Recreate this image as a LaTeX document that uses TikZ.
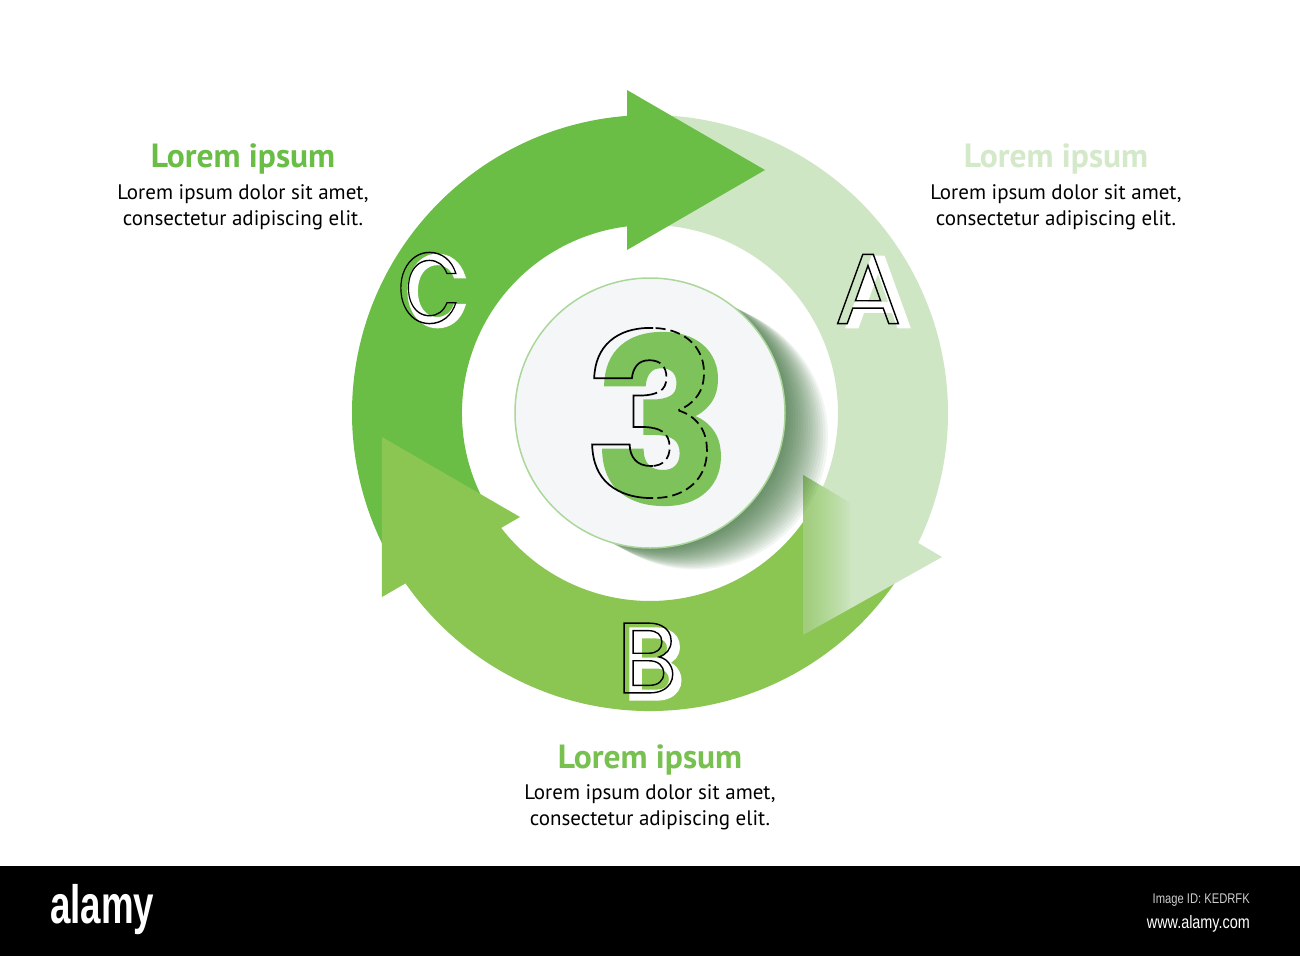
\documentclass[tikz,border=0pt]{standalone}
\usepackage{fontspec}
\usepackage{graphicx}
\setmainfont{PT Sans}
\newfontfamily\popf{Poppins}
\newfontfamily\libs{Liberation Sans}
\definecolor{cC}{HTML}{6ABD45}
\definecolor{cB}{HTML}{8BC653}
\definecolor{cA}{HTML}{CFE6C5}
\definecolor{cThree}{HTML}{7DC25A}
\definecolor{diskfill}{HTML}{F4F6F8}
\definecolor{diskrim}{HTML}{ABD79A}
\definecolor{shad}{HTML}{245F24}
\definecolor{hB}{HTML}{78C150}
\definecolor{hC}{HTML}{6ABD45}
\definecolor{hA}{HTML}{D3E9C9}
\newcommand{\strk}[2][1]{\special{pdf:literal direct 1 Tr #1 w}#2\special{pdf:literal direct 0 Tr}}
\newcommand{\fatt}[2][1]{\special{pdf:literal direct 2 Tr #1 w}#2\special{pdf:literal direct 0 Tr}}
\newcommand{\dashon}{\special{pdf:literal direct [10 5] 0 d}}
\newcommand{\dashoff}{\special{pdf:literal direct [] 0 d}}
\tikzset{
  head/.style={font=\bfseries\fontsize{33.5}{34}\selectfont, anchor=base, inner sep=0pt},
  body/.style={font=\fontsize{21}{22}\selectfont, anchor=base, text=black, inner sep=0pt},
  letterw/.style={font=\popf\fontsize{100}{100}\selectfont, text=white, inner sep=0pt},
  lettero/.style={font=\popf\fontsize{100}{100}\selectfont, text=black, inner sep=0pt},
  threef/.style={font=\popf\bfseries\fontsize{226}{226}\selectfont, inner sep=0pt},
}
\begin{document}
\begin{tikzpicture}[x=1pt,y=1pt]
\useasboundingbox (-650,-543) rectangle (650,413);
\fill[white] (-650,-543) rectangle (650,413);
% bands
\fill[cA] (-27:298) arc[start angle=-27, end angle=86, radius=298] -- (86:188) arc[start angle=86, end angle=-24, radius=188] -- cycle;
\fill[cB] (-30:298) arc[start angle=-30, end angle=-146.5, radius=298] -- (-143.5:188) arc[start angle=-143.5, end angle=-30, radius=188] -- cycle;
\fill[cC] (90:298) arc[start angle=90, end angle=206, radius=298] -- (206:188) arc[start angle=206, end angle=90, radius=188] -- cycle;
% arrow heads
\coordinate (ct1) at (-23,323); \coordinate (ct2) at (115,243); \coordinate (ct3) at (-23,163);
\coordinate (at1) at (153,-62); \coordinate (at2) at (292,-144); \coordinate (at3) at (153,-222);
\coordinate (bt1) at (-268,-24); \coordinate (bt2) at (-130,-104); \coordinate (bt3) at (-268,-184);
\fill[cC] (ct1) -- (ct2) -- (ct3) -- cycle;
\fill[cA] (at1) -- (at2) -- (at3) -- cycle;
\begin{scope}
\clip (at1) -- (at2) -- (at3) -- cycle;
\foreach \k in {0,...,23}{
  \fill[cB, opacity=0.035] (152,-230) rectangle (155+\k*2,-50);
}
\end{scope}
\fill[cB] (bt1) -- (bt2) -- (bt3) -- cycle;
% shadow
\foreach \k in {1,...,18}{
  \fill[shad, opacity=0.06] (\k*2.5,-\k*1.3) circle (133);
}
% disk
\node[circle, minimum size=270, fill=diskfill, draw=diskrim, line width=1.5pt] (disk) at (0,0) {};
% letters
\node[letterw] (lC) at (-213,122) {\scalebox{0.82}[1]{\fatt[3.5]{C}}};
\node[lettero] (lCo) at (-221,125) {\scalebox{0.82}[1]{\strk[1.4]{C}}};
\node[letterw] (lA) at (228,121) {\fatt[3.5]{A}};
\node[lettero] (lAo) at (218,124) {\strk[1.4]{A}};
\node[letterw] (lB) at (4,-251) {\fatt[3.5]{B}};
\node[lettero] (lBo) at (-3,-245) {\strk[1.4]{B}};
% three
\node[threef, text=cThree] (three) at (13,-6) {\fatt[4]{3}};
\begin{scope}
\clip (-200,-200) rectangle (3,200);
\node[threef, text=black] (threeo1) at (1,0) {\strk[1.7]{3}};
\end{scope}
\begin{scope}
\clip (3,-200) rectangle (200,200);
\node[threef, text=black] (threeo2) at (1,0) {\dashon\strk[1.7]{3}\dashoff};
\end{scope}
% texts
\node[head, text=hC] (hl) at (-407,245) {Lorem ipsum};
\node[body] (bl1) at (-407,213.5) {Lorem ipsum dolor sit amet,};
\node[body] (bl2) at (-407,187.5) {consectetur adipiscing elit.};
\node[head, text=hA] (hr) at (406,245) {Lorem ipsum};
\node[body] (br1) at (406,213.5) {Lorem ipsum dolor sit amet,};
\node[body] (br2) at (406,187.5) {consectetur adipiscing elit.};
\node[head, text=hB] (hb) at (0,-355) {Lorem ipsum};
\node[body] (bb1) at (0,-386.5) {Lorem ipsum dolor sit amet,};
\node[body] (bb2) at (0,-412.5) {consectetur adipiscing elit.};
% bottom bar
\fill[black] (-650,-453) rectangle (650,-543);
\node[text=white, font=\libs\bfseries\fontsize{54}{54}\selectfont, anchor=base west, inner sep=0pt] (logo) at (-600,-510) {\scalebox{0.68}[1]{alamy}};
\node[text=white!80!black, font=\libs\fontsize{14}{14}\selectfont, anchor=base east, inner sep=0pt] (imgid) at (600,-490) {\scalebox{0.8}[1]{Image ID: KEDRFK}};
\node[text=white, font=\libs\fontsize{18}{18}\selectfont, anchor=base east, inner sep=0pt] (www) at (600,-515) {\scalebox{0.8}[1]{www.alamy.com}};
\end{tikzpicture}
\end{document}
